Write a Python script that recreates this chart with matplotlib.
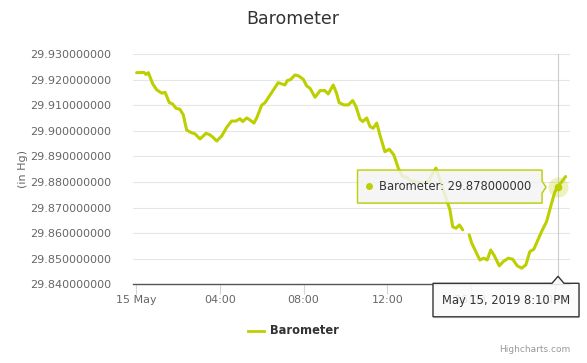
import datetime
import numpy as np
import matplotlib
matplotlib.use('Agg')
import matplotlib.pyplot as plt
from matplotlib.patches import Polygon

W, H = 587, 363
LINE_COLOR = '#bccf00'

# Readings for 15 May 2019 (hours since midnight, inHg); NaN = missing reading
day = datetime.datetime(2019, 5, 15)
hours = [0.02, 0.37, 0.47, 0.58, 0.79, 0.98, 1.22, 1.38, 1.58, 1.74, 1.90, 2.09,
         2.25, 2.41, 2.62, 2.81, 3.05, 3.34, 3.53, 3.66, 3.85, 4.09, 4.33, 4.56,
         4.77, 4.96, 5.09, 5.28, 5.44, 5.63, 5.76, 6.00, 6.16, 6.40, 6.79, 6.96,
         7.11, 7.22, 7.38, 7.59, 7.75, 7.99, 8.15, 8.31, 8.55, 8.79, 9.02, 9.18,
         9.42, 9.58, 9.70, 9.93, 10.14, 10.35, 10.51, 10.70, 10.83, 11.02, 11.18,
         11.33, 11.50, 11.65, 11.89, 12.10, 12.32, 12.53, 12.74, 12.93, 13.12,
         13.40, 13.70, 14.00, 14.15, 14.33, 14.60, 14.84, 15.00, 15.13, 15.29,
         15.45, 15.61, 15.76, 15.92, 16.04, 16.20, 16.43, 16.62, 16.78, 16.95,
         17.10, 17.36, 17.55, 17.79, 18.00, 18.22, 18.43, 18.63, 18.82, 19.01,
         19.14, 19.38, 19.62, 19.86, 20.02, 20.17, 20.53]
pressure = [29.9227, 29.9228, 29.9220, 29.9227, 29.9183, 29.9160, 29.9147, 29.9150,
            29.9110, 29.9105, 29.9088, 29.9084, 29.9062, 29.9003, 29.8993, 29.8988,
            29.8968, 29.8990, 29.8984, 29.8975, 29.8960, 29.8980, 29.9014, 29.9038,
            29.9038, 29.9047, 29.9036, 29.9050, 29.9042, 29.9030, 29.9050, 29.9100,
            29.9110, 29.9140, 29.9188, 29.9183, 29.9179, 29.9196, 29.9200, 29.9218,
            29.9215, 29.9201, 29.9175, 29.9166, 29.9131, 29.9157, 29.9157, 29.9144,
            29.9179, 29.9146, 29.9110, 29.9101, 29.9101, 29.9118, 29.9094, 29.9045,
            29.9036, 29.9050, 29.9016, 29.9010, 29.9030, 29.8984, 29.8918, 29.8928,
            29.8905, 29.8854, 29.8821, 29.8818, 29.8805, 29.8800, 29.8795, 29.8805,
            29.8830, 29.8854, 29.8789, 29.8730, 29.8691, 29.8625, 29.8619, 29.8632,
            29.8613, np.nan, 29.8593, 29.8561, 29.8534, 29.8495, 29.8502, 29.8495,
            29.8534, 29.8515, 29.8472, 29.8489, 29.8502, 29.8498, 29.8472, 29.8463,
            29.8476, 29.8528, 29.8537, 29.8561, 29.8606, 29.8645, 29.8717, 29.8762,
            29.8782, 29.8821]

x_ticks = [0, 4, 8, 12, 16, 20]
x_labels = ['15 May', '04:00', '08:00', '12:00', '16:00', '20:00']
y_ticks = [29.84, 29.85, 29.86, 29.87, 29.88, 29.89, 29.90, 29.91, 29.92, 29.93]

hover_hour = 20 + 10 / 60
hover_value = 29.878

plt.rcParams['font.family'] = ['DejaVu Sans']

fig = plt.figure(figsize=(W / 100, H / 100), dpi=100)
ax = fig.add_axes([133.3 / W, 1 - 284.3 / H, (570 - 133.3) / W, (284.3 - 54) / H])

ax.plot(hours, pressure, color=LINE_COLOR, lw=2.2, solid_joinstyle='round',
        solid_capstyle='round', zorder=3)
ax.set_xlim(-0.14, 20.74)
ax.set_ylim(29.84, 29.93)

ax.set_yticks(y_ticks)
ax.set_yticklabels(['%.9f' % v for v in y_ticks])
ax.set_xticks(x_ticks)
ax.set_xticklabels(x_labels)
ax.tick_params(axis='y', length=0, pad=16, labelsize=8, labelcolor='#666666')
ax.tick_params(axis='x', length=7, width=0.8, color='#ccd6eb', pad=1,
               labelsize=8, labelcolor='#666666')
ax.grid(axis='y', color='#e6e6e6', lw=0.8)
ax.set_axisbelow(True)
for s in ['top', 'right', 'left']:
    ax.spines[s].set_visible(False)
ax.spines['bottom'].set_color('#555555')
ax.spines['bottom'].set_linewidth(1.0)
ax.set_ylabel('(in Hg)', fontsize=8, color='#666666')
ax.yaxis.set_label_coords(-0.242, 0.5)

# crosshair + hovered point
ax.axvline(hover_hour, color='#cccccc', lw=0.8, zorder=2)
ax.plot([hover_hour], [hover_value], 'o', ms=14.5, color=LINE_COLOR, alpha=0.25,
        mec='none', zorder=4)
ax.plot([hover_hour], [hover_value], 'o', ms=5.5, color=LINE_COLOR, mec='none', zorder=5)

fig.text(293 / W, 1 - 19 / H, 'Barometer', ha='center', va='center',
         fontsize=12.5, color='#333333')

# overlay in pixel coordinates for tooltip, legend and credits
ov = fig.add_axes([0, 0, 1, 1], zorder=10)
ov.set_xlim(0, W)
ov.set_ylim(H, 0)
ov.axis('off')


def to_px(x, y):
    dx, dy = ax.transData.transform((x, y))
    return dx, H - dy


px, py = to_px(hover_hour, hover_value)

# series tooltip (callout to the left of the point)
left, right = px - 200.5, px - 16
top, bottom = py - 17, py + 16
pts = [(left, top), (right, top), (right, py - 6), (right + 4, py),
       (right, py + 6), (right, bottom), (left, bottom)]
ov.add_patch(Polygon([(a + 1, b + 1) for a, b in pts], closed=True, fc='#000000',
                     alpha=0.08, ec='none'))
ov.add_patch(Polygon(pts, closed=True, fc=(0.97, 0.97, 0.97, 0.85),
                     ec=LINE_COLOR, lw=1, joinstyle='round'))
ov.plot([left + 11.5], [py - 1], 'o', ms=5, color=LINE_COLOR, mec='none')
ov.text(left + 21, py - 1, 'Barometer: %.9f' % hover_value, ha='left', va='center',
        fontsize=8.3, color='#333333')

# crosshair date label under the axis
_, axis_y = to_px(hover_hour, 29.84)
bx1, bx2 = W - 8, W - 8 - 146
by1, by2 = axis_y - 1, axis_y + 32.5
box = [(bx2, by1), (px - 6, by1), (px, by1 - 7), (px + 6, by1), (bx1, by1),
       (bx1, by2), (bx2, by2)]
ov.add_patch(Polygon([(a + 1, b + 1.5) for a, b in box], closed=True,
                     fc='#000000', alpha=0.1, ec='none'))
ov.add_patch(Polygon(box, closed=True, fc=(1, 1, 1, 0.85), ec='#333333', lw=1))
stamp = day + datetime.timedelta(hours=hover_hour)
label = stamp.strftime('%b %d, %Y %I:%M %p').replace(' 0', ' ')
ov.text((bx1 + bx2) / 2, (by1 + by2) / 2, label, ha='center', va='center',
        fontsize=8.3, color='#333333')

# legend
ov.plot([248, 263.5], [331, 331], color=LINE_COLOR, lw=2)
ov.text(270, 331, 'Barometer', ha='left', va='center', fontsize=8.3,
        fontweight='bold', color='#333333')

# credits
ov.text(570, 349, 'Highcharts.com', ha='right', va='center', fontsize=6.5,
        color='#999999')

fig.savefig('out.png', dpi=100)
